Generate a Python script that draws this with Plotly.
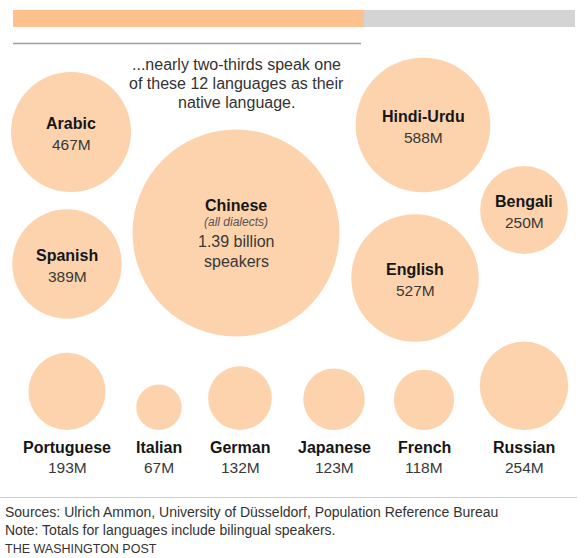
import math
import plotly.graph_objects as go

# ---------------- data ----------------
languages = ["Arabic", "Chinese", "Hindi-Urdu", "Bengali", "Spanish", "English",
             "Portuguese", "Italian", "German", "Japanese", "French", "Russian"]
speakers_m = [467, 1390, 588, 250, 389, 527, 193, 67, 132, 123, 118, 254]
value_labels = ["467M", "1.39 billion<br>speakers", "588M", "250M", "389M", "527M",
                "193M", "67M", "132M", "123M", "118M", "254M"]
world_population_m = 7200  # approx. world population used for the top share bar

# ---------------- layout (canvas positions, pixels) ----------------
W, H = 585, 558
cluster_x = [71, 236, 423, 524, 67, 415]
cluster_y = [132, 233, 125, 210, 264, 278]
row_x = [67, 159, 240, 334, 424, 524]
row_baseline = 430
max_diam = 207

ORANGE = "#fcc18c"
GRAY = "#d4d4d4"
FONT = "Liberation Sans, Arial, sans-serif"

sizeref = 2.0 * max(speakers_m) / (max_diam ** 2)
radii = [math.sqrt(v / (2 * sizeref)) for v in speakers_m]

xs = cluster_x + row_x
ys = cluster_y + [row_baseline - r for r in radii[6:]]

fig = go.Figure()

# bubbles
fig.add_trace(go.Scatter(
    x=xs, y=ys, mode="markers",
    marker=dict(size=speakers_m, sizemode="area", sizeref=sizeref,
                color=ORANGE, line=dict(width=0)),
    hoverinfo="text", hovertext=languages, showlegend=False,
    xaxis="x", yaxis="y",
))

# share bar at top
total = sum(speakers_m)
fig.add_trace(go.Bar(
    y=["share"], x=[total], orientation="h", marker=dict(color=ORANGE, line=dict(width=0)),
    xaxis="x2", yaxis="y2", showlegend=False, hoverinfo="skip",
))
fig.add_trace(go.Bar(
    y=["share"], x=[world_population_m - total], orientation="h",
    marker=dict(color=GRAY, line=dict(width=0)),
    xaxis="x2", yaxis="y2", showlegend=False, hoverinfo="skip",
))

annotations = []
name_col = "#161616"
val_col = "#383838"
NAME_SIZE = 16
VAL_SIZE = 15.5
for i, lang in enumerate(languages):
    x, y = xs[i], ys[i]
    if lang == "Chinese":
        annotations += [
            dict(x=x, y=205, text="<b>Chinese</b>", font=dict(size=NAME_SIZE, color=name_col, family=FONT)),
            dict(x=x, y=222, text="<i>(all dialects)</i>", font=dict(size=12, color="#555", family=FONT)),
            dict(x=x, y=241, text="1.39 billion", font=dict(size=16, color=val_col, family=FONT)),
            dict(x=x, y=261, text="speakers", font=dict(size=16, color=val_col, family=FONT)),
        ]
    elif i < 6:
        annotations += [
            dict(x=x, y=y - 9, text=f"<b>{lang}</b>", font=dict(size=NAME_SIZE, color=name_col, family=FONT)),
            dict(x=x, y=y + 12, text=value_labels[i], font=dict(size=VAL_SIZE, color=val_col, family=FONT)),
        ]
    else:
        annotations += [
            dict(x=x, y=447, text=f"<b>{lang}</b>", font=dict(size=NAME_SIZE, color=name_col, family=FONT)),
            dict(x=x, y=467, text=value_labels[i], font=dict(size=VAL_SIZE, color=val_col, family=FONT)),
        ]
for a in annotations:
    a.update(xref="x", yref="y", showarrow=False, xanchor="center", yanchor="middle")

# intro text
for yy, line in zip([64, 83, 102], ["...nearly two-thirds speak one",
                                     "of these 12 languages as their",
                                     "native language."]):
    annotations.append(dict(x=236, y=yy, xref="x", yref="y", text=line, showarrow=False,
                            xanchor="center", yanchor="middle",
                            font=dict(size=16, color="#333", family=FONT)))

# footer
for yy, line, fs in zip([512, 530, 549],
                        ["Sources: Ulrich Ammon, University of Düsseldorf, Population Reference Bureau",
                         "Note: Totals for languages include bilingual speakers.",
                         "THE WASHINGTON POST"],
                        [14, 14, 12.5]):
    annotations.append(dict(x=3, y=yy, xref="x", yref="y", text=line, showarrow=False,
                            xanchor="left", yanchor="middle",
                            font=dict(size=fs, color="#333", family=FONT)))

shapes = [
    dict(type="line", xref="x", yref="y", x0=13, x1=361, y0=43.5, y1=43.5,
         line=dict(color="#a0a0a0", width=1.5)),
    dict(type="line", xref="x", yref="y", x0=0, x1=577, y0=497.5, y1=497.5,
         line=dict(color="#cfcfcf", width=1)),
]

fig.update_layout(
    width=W, height=H, margin=dict(l=0, r=0, t=0, b=0),
    paper_bgcolor="white", plot_bgcolor="white",
    barmode="stack", bargap=0,
    xaxis=dict(range=[0, W], visible=False, domain=[0, 1], fixedrange=True),
    yaxis=dict(range=[H, 0], visible=False, domain=[0, 1], fixedrange=True),
    xaxis2=dict(range=[0, world_population_m], visible=False,
                domain=[13 / W, 575 / W], anchor="y2"),
    yaxis2=dict(visible=False, domain=[1 - 27 / H, 1 - 9.5 / H], anchor="x2",
                range=[-0.5, 0.5]),
    annotations=annotations, shapes=shapes,
    font=dict(family=FONT),
)

fig.write_html("out.html")
